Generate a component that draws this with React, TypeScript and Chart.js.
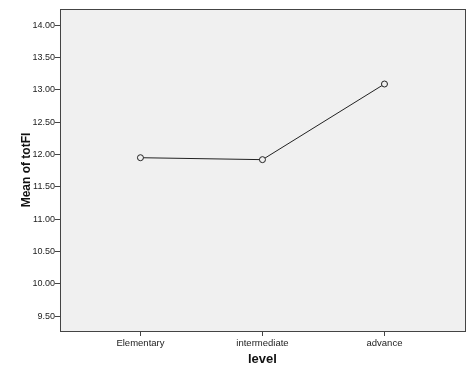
import React, { useEffect, useRef } from "react";
import { Chart, registerables } from "chart.js";

Chart.register(...registerables);

const categories = ["Elementary", "intermediate", "advance"];
const meanTotFI = [11.95, 11.92, 13.09];
const yTicks = [9.5, 10.0, 10.5, 11.0, 11.5, 12.0, 12.5, 13.0, 13.5, 14.0];

const plotBg = {
  id: "plotBg",
  beforeDraw(chart: any) {
    const { ctx, chartArea: a } = chart;
    ctx.save();
    ctx.fillStyle = "#f0f0f0";
    ctx.fillRect(a.left, a.top, a.right - a.left, a.bottom - a.top);
    ctx.restore();
  },
  afterDatasetsDraw(chart: any) {
    const { ctx, chartArea: a } = chart;
    ctx.save();
    ctx.strokeStyle = "#444444";
    ctx.lineWidth = 1;
    ctx.strokeRect(Math.round(a.left) + 0.5, Math.round(a.top) + 0.5, Math.round(a.right - a.left), Math.round(a.bottom - a.top));
    ctx.restore();
  },
};

export default function App() {
  const ref = useRef<HTMLCanvasElement>(null);
  useEffect(() => {
    document.body.style.margin = "0";
    const chart = new Chart(ref.current!, {
      type: "line",
      data: {
        datasets: [
          {
            data: meanTotFI.map((v, i) => ({ x: i, y: v })),
            borderColor: "#222222",
            borderWidth: 1,
            pointRadius: 3,
            pointBorderWidth: 1,
            pointBorderColor: "#222222",
            pointBackgroundColor: "#f0f0f0",
            tension: 0,
          },
        ],
      },
      options: {
        animation: false,
        responsive: false,
        layout: { padding: { top: 9, right: 9, left: 16, bottom: 13 } },
        plugins: { legend: { display: false }, tooltip: { enabled: false } },
        scales: {
          x: {
            type: "linear",
            min: -0.66,
            max: 2.66,
            afterBuildTicks: (s: any) => {
              s.ticks = categories.map((_, i) => ({ value: i }));
            },
            grid: { display: true, drawOnChartArea: false, drawTicks: true, tickLength: 5, color: "#444444" },
            border: { display: false },
            ticks: {
              callback: (v: any) => categories[v] ?? "",
              color: "#222222",
              font: { family: "Liberation Sans", size: 9.5 },
              padding: 2,
              maxRotation: 0,
            },
            title: {
              display: true,
              text: "level",
              color: "#111111",
              font: { family: "Liberation Sans", size: 13, weight: "bold" },
              padding: { top: 0, bottom: 0 },
            },
          },
          y: {
            min: 9.27,
            max: 14.25,
            afterBuildTicks: (s: any) => {
              s.ticks = yTicks.map((v) => ({ value: v }));
            },
            grid: { display: true, drawOnChartArea: false, drawTicks: true, tickLength: 5, color: "#444444" },
            border: { display: false },
            ticks: {
              callback: (v: any) => Number(v).toFixed(2),
              color: "#222222",
              font: { family: "Liberation Sans", size: 9 },
              padding: 0,
            },
            title: {
              display: true,
              text: "Mean of totFI",
              color: "#111111",
              font: { family: "Liberation Sans", size: 12, weight: "bold" },
              padding: { top: 3, bottom: -1 },
            },
          },
        },
      },
      plugins: [plotBg],
    });
    return () => chart.destroy();
  }, []);
  return (
    <div style={{ width: 474, height: 380, background: "#ffffff" }}>
      <canvas ref={ref} width={474} height={380} />
    </div>
  );
}
